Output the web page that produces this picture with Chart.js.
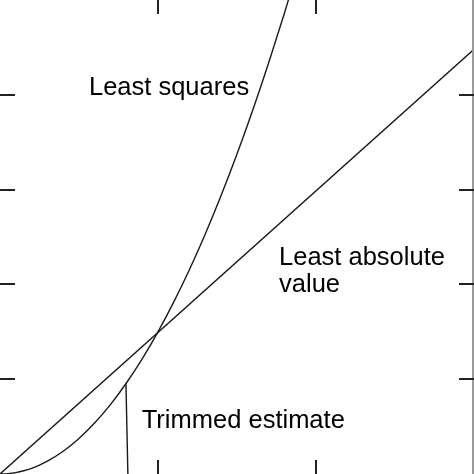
<!DOCTYPE html>
<html>
<head>
<meta charset="utf-8">
<script src="https://cdn.jsdelivr.net/npm/chart.js@4/dist/chart.umd.min.js"></script>
<style>
  html, body { margin: 0; padding: 0; background: #fff; }
  canvas { display: block; }
</style>
</head>
<body>
<canvas id="myChart" width="474" height="474"></canvas>
<script>
// values
const lsX = [0, 0.05, 0.1, 0.15, 0.2, 0.25, 0.3, 0.4, 0.5, 0.6, 0.7, 0.8, 0.9, 1.0, 1.1, 1.2, 1.3, 1.4, 1.5, 1.6, 1.7, 1.8, 1.9];
const lsY = [0, 0.004, 0.015, 0.034, 0.06, 0.094, 0.135, 0.24, 0.375, 0.54, 0.735, 0.96, 1.215, 1.5, 1.815, 2.16, 2.535, 2.94, 3.375, 3.84, 4.335, 4.86, 5.415];
const laX = [0, 3];
const laY = [0, 4.48];
const trX = [0.797, 0.81];
const trY = [0.96, -0.05];
const xTicks = [1, 2];
const yTicks = [1, 2, 3, 4];

const toPoints = (xs, ys) => xs.map((x, i) => ({ x: x, y: ys[i] }));

// inward tick marks, right frame line and text labels
const decor = {
  id: "decor",
  afterDatasetsDraw(chart) {
    const c = chart.ctx;
    const xs = chart.scales.x;
    const ys = chart.scales.y;
    const a = chart.chartArea;
    c.save();
    c.strokeStyle = "#9a9a9a";
    c.lineWidth = 2;
    c.beginPath();
    c.moveTo(a.right - 1, a.top);
    c.lineTo(a.right - 1, a.bottom);
    c.stroke();

    c.strokeStyle = "#222";
    c.lineWidth = 2;
    c.beginPath();
    xTicks.forEach((v) => {
      const px = Math.round(xs.getPixelForValue(v));
      c.moveTo(px, a.top);
      c.lineTo(px, a.top + 14);
      c.moveTo(px, a.bottom);
      c.lineTo(px, a.bottom - 14);
    });
    yTicks.forEach((v) => {
      const py = Math.round(ys.getPixelForValue(v));
      c.moveTo(a.left, py);
      c.lineTo(a.left + 15, py);
      c.moveTo(a.right, py);
      c.lineTo(a.right - 15, py);
    });
    c.stroke();

    c.fillStyle = "#000";
    c.font = '25.5px "Liberation Sans", Arial, sans-serif';
    c.textBaseline = "alphabetic";
    const label = (t, x, y) => c.fillText(t, xs.getPixelForValue(x), ys.getPixelForValue(y));
    label("Least squares", 0.563, 4.0);
    label("Least absolute", 1.766, 2.205);
    label("value", 1.766, 1.925);
    label("Trimmed estimate", 0.897, 0.482);
    c.restore();
  },
};

const lineStyle = {
  showLine: true,
  pointRadius: 0,
  borderColor: "#1a1a1a",
  borderWidth: 1.4,
  fill: false,
};

new Chart(document.getElementById("myChart"), {
  type: "scatter",
  data: {
    datasets: [
      { label: "Least squares", data: toPoints(lsX, lsY), tension: 0.4, cubicInterpolationMode: "monotone", ...lineStyle },
      { label: "Least absolute value", data: toPoints(laX, laY), ...lineStyle },
      { label: "Trimmed estimate", data: toPoints(trX, trY), ...lineStyle },
    ],
  },
  options: {
    responsive: false,
    animation: false,
    devicePixelRatio: 1,
    layout: { padding: 0 },
    scales: {
      x: { type: "linear", min: 0, max: 3, display: false },
      y: { type: "linear", min: 0, max: 5, display: false },
    },
    plugins: {
      legend: { display: false },
      tooltip: { enabled: false },
    },
  },
  plugins: [decor],
});
</script>
</body>
</html>
